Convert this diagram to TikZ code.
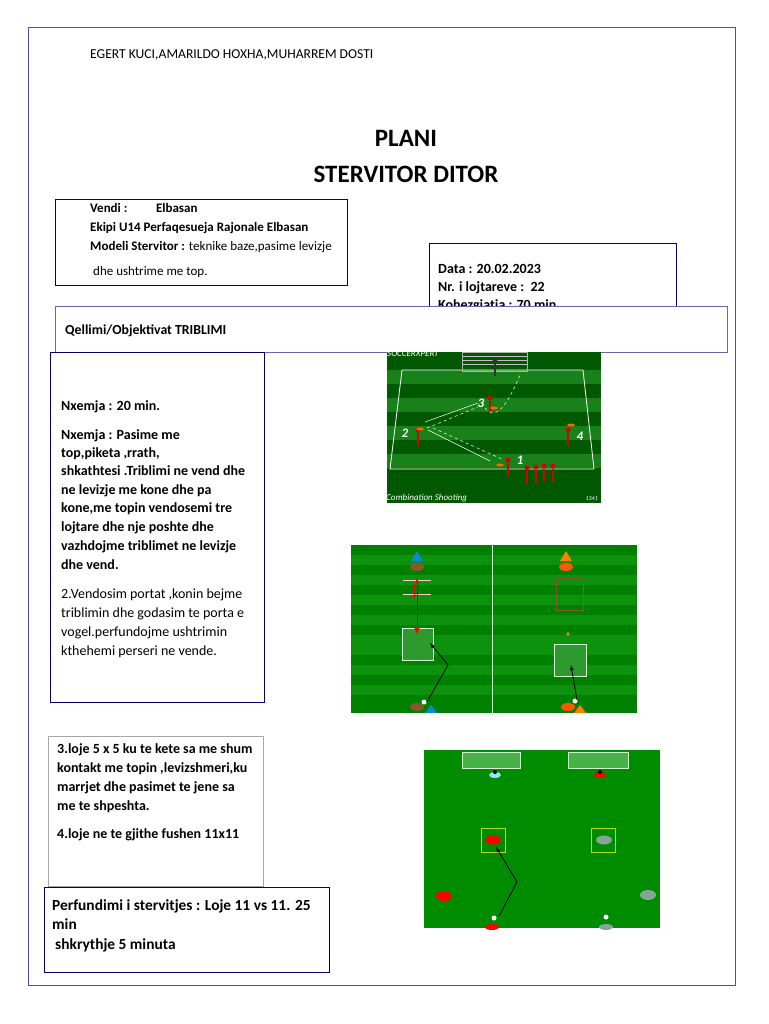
\documentclass[tikz,border=0pt]{standalone}
\usepackage{fontspec}
\setmainfont{Carlito}
\begin{document}
\begin{tikzpicture}[x=1pt,y=-1pt,
  t/.style={anchor=base west,inner sep=0pt,font=\fontsize{14}{16}\selectfont},
  tb/.style={t,font=\fontsize{14}{16}\selectfont\bfseries},
  tbs/.style={t,font=\fontsize{13}{15}\selectfont\bfseries},
  bx/.style={draw=blue!45!black,line width=0.8pt},
  wl/.style={draw=white,line width=0.8pt}]
\useasboundingbox (0,0) rectangle (768,1024);
\fill[white] (0,0) rectangle (768,1024);
\draw[draw=blue!60!black!70,line width=0.6pt] (28,27) rectangle (735,985);
\node[t,font=\fontsize{13.6}{15}\selectfont] (authors) at (90,59) {EGERT KUCI,AMARILDO HOXHA,MUHARREM DOSTI};
\node[font=\fontsize{25}{28}\selectfont\bfseries,inner sep=0pt] (t1) at (406,138) {PLANI};
\node[font=\fontsize{25}{28}\selectfont\bfseries,inner sep=0pt] (t2) at (406,174) {STERVITOR DITOR};
% box 1
\draw[bx] (55,199) rectangle (347,285);
\node[tbs] at (90,213) {Vendi :\hspace{2.2em}Elbasan};
\node[tbs] at (90,232) {Ekipi U14 Perfaqesueja Rajonale Elbasan};
\node[tbs] at (90,250) {Modeli Stervitor : \mdseries teknike baze,pasime levizje};
\node[t,font=\fontsize{13}{15}\selectfont] at (93,275) {dhe ushtrime me top.};
% box 2
\draw[bx] (429,243) rectangle (676,320);
\node[tb] at (438,273) {Data : 20.02.2023};
\node[tb] at (438,291) {Nr. i lojtareve :\ \ 22};
\node[tb] at (438,309) {Kohezgjatja : 70 min};
% box 3
\draw[draw=blue!50!black!60,line width=0.6pt,fill=white] (55,306) rectangle (727,352);
\node[tb,font=\fontsize{13.8}{15}\selectfont\bfseries] at (65,334) {Qellimi/Objektivat TRIBLIMI};
% box 4
\draw[bx] (50,352) rectangle (264,702);
\node[tb] at (61,410) {Nxemja : 20 min.};
\foreach \y/\s in {439/{Nxemja : Pasime me},457/{top,piketa ,rrath,},475/{shkathtesi .Triblimi ne vend dhe},494/{ne levizje me kone dhe pa},512/{kone,me topin vendosemi tre},531/{lojtare dhe nje poshte dhe},550/{vazhdojme triblimet ne levizje},569/{dhe vend.}}
  \node[tb] at (61,\y) {\s};
\foreach \y/\s in {598/{2.Vendosim portat ,konin bejme},617/{triblimin dhe godasim te porta e},636/{vogel.perfundojme ushtrimin},655/{kthehemi perseri ne vende.}}
  \node[t] at (61,\y) {\s};
% box 5
\draw[draw=gray!70,line width=0.5pt] (48,736) rectangle (263,886);
\foreach \y/\s in {753/{3.loje 5 x 5 ku te kete sa me shum},772/{kontakt me topin ,levizshmeri,ku},791/{marrjet dhe pasimet te jene sa},810/{me te shpeshta.},838/{4.loje ne te gjithe fushen 11x11}}
  \node[tb] at (57,\y) {\s};
% box 6
\draw[bx] (44,887) rectangle (329,972);
\node[tb,font=\fontsize{15.4}{17}\selectfont\bfseries] at (52,910) {Perfundimi i stervitjes : Loje 11 vs 11. 25};
\node[tb,font=\fontsize{15.4}{17}\selectfont\bfseries] at (52,929) {min};
\node[tb,font=\fontsize{15.4}{17}\selectfont\bfseries] at (55,949) {shkrythje 5 minuta};
% image 1
\fill[green!35!black] (387,352) rectangle (601,503);
\foreach \k in {0,2,4,6}{\fill[green!45!black!90] (387,370+\k*14) rectangle (601,384+\k*14);}
\draw[wl] (402,370) -- (583,370) -- (594,469) -- (390,469) -- cycle;
\draw[gray!60,line width=0.6pt] (462,352) rectangle (527,371);
\foreach \yy in {356,360,364} \draw[gray!50] (462,\yy) -- (527,\yy);
\node[font=\fontsize{9}{10}\selectfont\itshape,text=white,anchor=north west,inner sep=0pt] at (387,350) {SOCCERXPERT};
\fill[black!80] (495,360) circle (2.5pt); \draw[black!80,line width=1.5pt] (495,363)--(495,376);
\foreach \px/\py in {490/398,418/430,568/430,508/460,527/468,536/467,544/466,553/466}{
  \fill[red!85!black] (\px,\py) circle (2.5pt);
  \draw[red!85!black,line width=2pt] (\px,\py+3)--(\px,\py+16);}
\draw[white,line width=0.5pt] (425,422)--(478,403);
\draw[white,dashed,line width=0.5pt] (427,428)--(478,407);
\draw[white,line width=0.5pt] (428,430)--(490,461);
\draw[white,dashed,line width=0.5pt] (433,428)--(504,460);
\draw[white,dashed,line width=0.5pt] (485,408) .. controls (495,420) and (505,410) .. (520,375);
\fill[orange!80!red] (420,429) ellipse (4pt and 1.5pt);
\fill[orange!80!red] (494,408) ellipse (4pt and 1.5pt);
\fill[orange!80!red] (571,425) ellipse (4pt and 1.5pt);
\fill[orange!80!red] (500,465) ellipse (4pt and 1.5pt);
\foreach \lx/\ly/\l in {405/433/2,481/403/3,580/436/4,520/460/1}
  \node[font=\fontsize{13}{14}\selectfont\itshape\bfseries,text=white,inner sep=0pt] at (\lx,\ly) {\l};
\node[font=\fontsize{9}{10}\selectfont\itshape,text=white,anchor=base west,inner sep=0pt] at (386,500) {Combination Shooting};
\node[font=\fontsize{6}{7}\selectfont\itshape,text=white,anchor=base east,inner sep=0pt] at (598,500) {1341};
% image 2
\fill[green!50!black] (351,545) rectangle (637,713);
\foreach \k in {0,2,4,6,8}{\fill[green!55!black!95] (351,545+\k*10+10) rectangle (637,545+\k*10+20);}
\foreach \k in {0,2,4}{\fill[green!55!black!95] (351,645+\k*10) rectangle (637,655+\k*10);}
\draw[white!80!green,line width=0.7pt] (492,545)--(492,713);
\draw[white!85!green,line width=0.8pt,fill=white!30!green!60!black] (402,628) rectangle (433,660);
\draw[white!85!green,line width=0.8pt,fill=white!30!green!60!black] (554,644) rectangle (586,676);
\fill[cyan!70!blue] (411,561)--(423,561)--(417,551)--cycle;
\fill[orange] (560,561)--(572,561)--(566,551)--cycle;
\fill[brown!70!black] (417,567) ellipse (7pt and 4pt);
\fill[orange!70!red] (566,567) ellipse (7pt and 4pt);
\fill[brown!70!black] (417,707) ellipse (7pt and 4pt);
\fill[orange!70!red] (568,707) ellipse (7pt and 4pt);
\fill[cyan!70!blue] (425,713)--(437,713)--(431,705)--cycle;
\fill[orange] (574,713)--(586,713)--(580,705)--cycle;
\fill[white] (424,702) circle (2.5pt); \fill[white] (575,701) circle (2.5pt);
\draw[white!80!red,line width=0.6pt] (403,580)--(431,580) (403,594)--(431,594);
\draw[red,line width=0.6pt,-latex] (417,590)--(417,578);
\draw[red,line width=0.6pt,-latex] (414,584)--(414,600);
\draw[red!80!black,line width=0.6pt] (417,580)--(417,628);
\fill[red] (414,627)--(420,627)--(417,634)--cycle;
\draw[brown!70!black,line width=0.6pt] (556,578) rectangle (583,610);
\fill[orange] (568,634) circle (1.8pt);
\draw[black,line width=0.8pt,-latex] (427,702)--(448,665)--(430,643);
\draw[black,line width=0.8pt,-latex] (577,700)--(571,665);
% image 3
\fill[green!55!black] (424,750) rectangle (660,928);
\draw[white!80!green,line width=1pt,fill=white!40!green!70!black] (462,752) rectangle (520,768);
\draw[white!80!green,line width=1pt,fill=white!40!green!70!black] (568,752) rectangle (628,768);
\fill[cyan!40!white] (495,775) ellipse (6pt and 3pt); \fill[black] (495,772) circle (2pt);
\fill[red] (600,775) ellipse (6pt and 3pt); \fill[black] (600,772) circle (2pt);
\draw[yellow!70!green,line width=0.8pt] (481,828) rectangle (505,852);
\draw[yellow!70!green,line width=0.8pt] (591,828) rectangle (615,852);
\fill[red] (493,840) ellipse (8pt and 4.5pt);
\fill[cyan!40!brown] (604,840) ellipse (8pt and 4.5pt);
\fill[red] (444,896) ellipse (8pt and 5pt);
\fill[cyan!40!brown] (648,895) ellipse (8pt and 5pt);
\fill[red] (492,927) ellipse (7pt and 3pt);
\fill[cyan!40!brown] (606,927) ellipse (7pt and 3pt);
\fill[white] (494,918) circle (2.5pt); \fill[white] (606,917) circle (2.5pt);
\draw[black,line width=0.8pt,-latex] (499,916)--(517,882)--(496,847);
\end{tikzpicture}
\end{document}
